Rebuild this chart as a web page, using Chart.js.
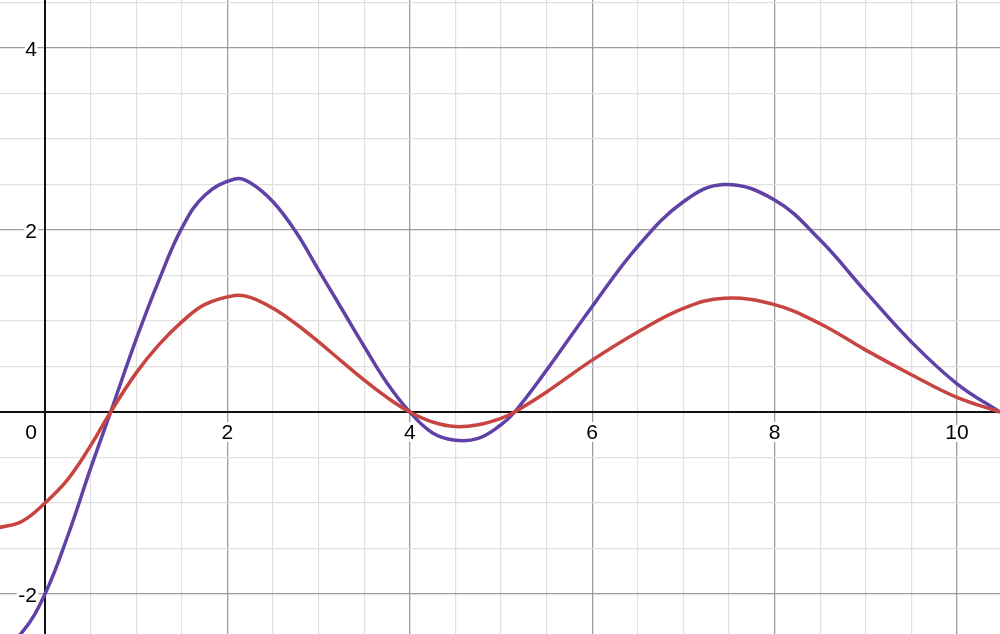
<!DOCTYPE html>
<html>
<head>
<meta charset="utf-8">
<script src="https://cdn.jsdelivr.net/npm/chart.js@4.4.1/dist/chart.umd.min.js"></script>
<style>
  html, body { margin: 0; padding: 0; background: #fff; }
  #wrap { width: 1000px; height: 634px; position: relative; }
</style>
</head>
<body>
<div id="wrap"><canvas id="graph"></canvas></div>
<script>
// sample positions
const xSamples = [-0.5, -0.25, 0, 0.25, 0.5, 0.72, 1, 1.25, 1.5, 1.75, 2.08, 2.25, 2.5, 2.75, 3, 3.25, 3.5, 3.75,
  4, 4.25, 4.5, 4.75, 5, 5.15, 5.5, 6, 6.5, 7, 7.45, 8, 8.5, 9, 9.5, 10, 10.47];

// red curve
const redValues = [-1.27, -1.2, -1.0, -0.74, -0.37, 0, 0.43, 0.74, 0.99, 1.18, 1.28, 1.26, 1.14, 0.97, 0.77, 0.56, 0.35, 0.16,
  0, -0.11, -0.16, -0.14, -0.07, 0, 0.22, 0.57, 0.88, 1.14, 1.25, 1.18, 0.97, 0.68, 0.41, 0.16, 0];

// purple curve
const purpleValues = [-2.62, -2.42, -2.0, -1.36, -0.62, 0, 0.8, 1.45, 2.02, 2.38, 2.56, 2.52, 2.31, 1.98, 1.56, 1.14, 0.72, 0.32,
  0, -0.23, -0.31, -0.29, -0.14, 0, 0.46, 1.16, 1.82, 2.31, 2.5, 2.33, 1.89, 1.32, 0.77, 0.31, 0];

const xTickLabels = [2, 4, 6, 8, 10];
const yTickLabels = [-2, 2, 4];

const toPoints = (ys) => ys.map((y, i) => ({ x: xSamples[i], y }));

// gridline styling: axis / every 2 units / every half unit
const gridColor = (ctx) => {
  const v = ctx.tick ? ctx.tick.value : NaN;
  if (Math.abs(v) < 1e-9) return 'rgba(0,0,0,0)'; // axis drawn by plugin
  if (Math.abs(v / 2 - Math.round(v / 2)) < 1e-9) return '#9d9d9d';
  if (Math.abs(v * 2 - Math.round(v * 2)) < 1e-9) return '#e0e0e0';
  return 'rgba(0,0,0,0)';
};
const gridWidth = (ctx) => {
  const v = ctx.tick ? ctx.tick.value : NaN;
  return Math.abs(v / 2 - Math.round(v / 2)) < 1e-9 ? 1.3 : 1.2;
};

const axesAndLabels = {
  id: 'axesAndLabels',
  beforeDatasetsDraw(chart) {
    const { ctx, chartArea, scales: { x, y } } = chart;
    const x0 = x.getPixelForValue(0);
    const y0 = y.getPixelForValue(0);

    ctx.save();
    ctx.strokeStyle = '#111';
    ctx.lineWidth = 2;
    ctx.beginPath();
    ctx.moveTo(chartArea.left, y0);
    ctx.lineTo(chartArea.right, y0);
    ctx.moveTo(x0, chartArea.top);
    ctx.lineTo(x0, chartArea.bottom);
    ctx.stroke();

    ctx.font = '21px "Liberation Sans", Arial, sans-serif';
    ctx.lineJoin = 'round';
    ctx.textBaseline = 'alphabetic';
    const label = (txt, px, py) => {
      ctx.strokeStyle = '#fff';
      ctx.lineWidth = 6;
      ctx.strokeText(txt, px, py);
      ctx.fillStyle = '#000';
      ctx.fillText(txt, px, py);
    };

    ctx.textAlign = 'center';
    xTickLabels.forEach(v => label(String(v), x.getPixelForValue(v), y0 + 27));

    ctx.textAlign = 'right';
    yTickLabels.forEach(v => label(String(v), x0 - 8, y.getPixelForValue(v) + 8));
    label('0', x0 - 8, y0 + 27);
    ctx.restore();
  }
};

new Chart(document.getElementById('graph'), {
  type: 'scatter',
  data: {
    datasets: [
      {
        data: toPoints(redValues),
        showLine: true,
        borderColor: '#c74440',
        borderWidth: 3.5,
        pointRadius: 0,
        tension: 0.4
      },
      {
        data: toPoints(purpleValues),
        showLine: true,
        borderColor: '#6042a6',
        borderWidth: 3.5,
        pointRadius: 0,
        tension: 0.4
      }
    ]
  },
  options: {
    responsive: true,
    maintainAspectRatio: false,
    animation: false,
    layout: { padding: 0 },
    plugins: { legend: { display: false }, tooltip: { enabled: false } },
    scales: {
      x: {
        type: 'linear',
        min: -0.4934,
        max: 10.4715,
        ticks: { display: false, stepSize: 0.5, includeBounds: false },
        grid: { color: gridColor, lineWidth: gridWidth, drawTicks: false },
        border: { display: false }
      },
      y: {
        type: 'linear',
        min: -2.4396,
        max: 4.5275,
        ticks: { display: false, stepSize: 0.5, includeBounds: false },
        grid: { color: gridColor, lineWidth: gridWidth, drawTicks: false },
        border: { display: false }
      }
    }
  },
  plugins: [axesAndLabels]
});
</script>
</body>
</html>
